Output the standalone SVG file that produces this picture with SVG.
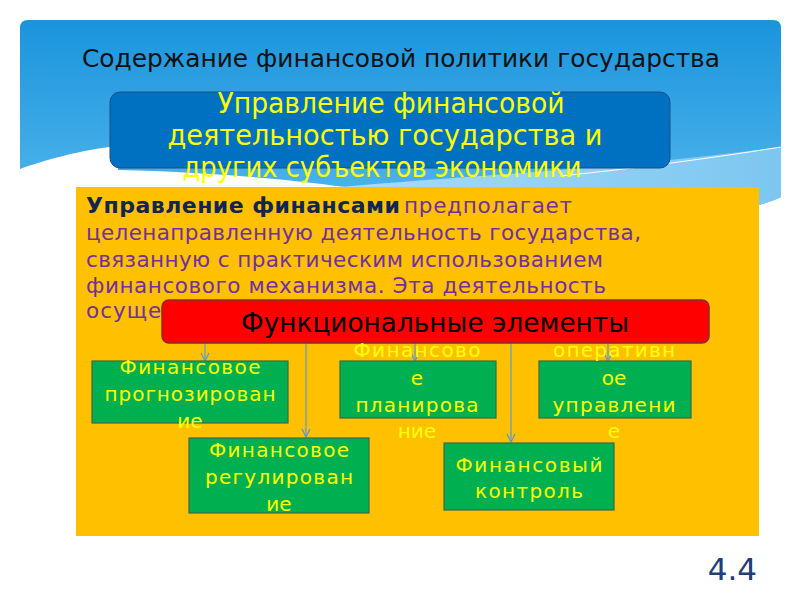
<svg xmlns="http://www.w3.org/2000/svg" width="800" height="600" viewBox="0 0 800 600">
  <defs>
    <linearGradient id="sky" x1="0" y1="0" x2="0" y2="1">
      <stop offset="0" stop-color="#1b94dc"/>
      <stop offset="1" stop-color="#4fb5ec"/>
    </linearGradient>
    <linearGradient id="band" x1="0" y1="0" x2="1" y2="0">
      <stop offset="0" stop-color="#a9dcf7"/>
      <stop offset="1" stop-color="#7cc6f1"/>
    </linearGradient>
    <marker id="arr" viewBox="0 0 10 10" refX="9" refY="5" markerWidth="10" markerHeight="10" markerUnits="userSpaceOnUse" orient="auto">
      <path d="M1,1 L9,5 L1,9" fill="none" stroke="#5b9bd5" stroke-width="1.3"/>
    </marker>
    <style>
      text { font-family: "DejaVu Sans", "Liberation Sans", sans-serif; }
      .title { font-size: 24px; fill: #111111; }
      .ytxt { font-size: 28px; fill: #ffff00; text-anchor: middle; }
      .body { font-size: 21.5px; fill: #7030a0; }
      .bold { font-size: 22px; font-weight: bold; fill: #102550; }
      .red { fill: #ff0000; stroke: #8c2a2a; stroke-width: 1.5; }
      .rtxt { font-size: 27px; fill: #000000; text-anchor: middle; }
      .green { fill: #00b050; stroke: #3a6a48; stroke-width: 1.2; }
      .gtxt { font-size: 20px; fill: #ffff00; text-anchor: middle; }
      .conn { stroke: #5b9bd5; stroke-width: 1.2; fill: none; marker-end: url(#arr); }
    </style>
  </defs>

  <rect x="0" y="0" width="800" height="600" fill="#ffffff"/>

  <!-- sky background -->
  <g id="background">
    <path d="M20,28 Q20,20 28,20 H773 Q781,20 781,28 V197 C775,200 767,203 759,205 L759,187 L20,187 Z" fill="url(#sky)"/>
    <path d="M340,187 C470,176 620,168 781,147 V197 C775,200 767,203 759,205 V187 Z" fill="url(#band)"/>
    <path d="M20,169 C45,160 80,150 118,146 L118,170 C200,172 280,178 345,187 L20,187 Z" fill="#ffffff"/>
    <path d="M560,176 C620,170 700,160 781,147" fill="none" stroke="#ffffff" stroke-width="1"/>
  </g>

  <text class="title" x="82" y="67" textLength="638" lengthAdjust="spacingAndGlyphs">Содержание финансовой политики государства</text>

  <g id="node-upravlenie">
    <rect x="110" y="92" width="560" height="76" rx="10" fill="#0070c0" stroke="#1d4f86" stroke-width="1"/>
    <text class="ytxt" x="391" y="113" textLength="347" lengthAdjust="spacingAndGlyphs">Управление финансовой</text>
    <text class="ytxt" x="385" y="145" textLength="435" lengthAdjust="spacingAndGlyphs">деятельностью государства  и</text>
    <text class="ytxt" x="382" y="177" textLength="399" lengthAdjust="spacingAndGlyphs">других субъектов экономики</text>
  </g>

  <g id="node-orange">
    <rect x="76" y="187" width="683" height="349" fill="#ffc000"/>
    <text class="bold" x="86" y="213" textLength="314" lengthAdjust="spacing">Управление  финансами</text>
    <text class="body" x="404" y="213" textLength="168" lengthAdjust="spacing">предполагает</text>
    <text class="body" x="86" y="240" textLength="555" lengthAdjust="spacing">целенаправленную деятельность государства,</text>
    <text class="body" x="86" y="267" textLength="517" lengthAdjust="spacing">связанную с практическим использованием</text>
    <text class="body" x="86" y="293" textLength="520" lengthAdjust="spacing">финансового механизма.  Эта деятельность</text>
    <text class="body" x="86" y="318" textLength="88" lengthAdjust="spacing">осущес</text>
  </g>

  <g id="connectors">
    <line class="conn" x1="205" y1="343" x2="205" y2="361"/>
    <line class="conn" x1="306" y1="343" x2="306" y2="437"/>
    <line class="conn" x1="415" y1="343" x2="415" y2="361"/>
    <line class="conn" x1="511" y1="343" x2="511" y2="442"/>
    <line class="conn" x1="608" y1="343" x2="608" y2="361"/>
  </g>

  <g id="node-functional">
    <rect class="red" x="162" y="300" width="547" height="43" rx="7"/>
    <text class="rtxt" x="435" y="332" textLength="388" lengthAdjust="spacingAndGlyphs">Функциональные элементы</text>
  </g>

  <g id="node-prognoz">
    <rect class="green" x="92" y="361" width="196" height="62"/>
    <text class="gtxt" x="190" y="374" textLength="141" lengthAdjust="spacing">Финансовое</text>
    <text class="gtxt" x="190" y="401" textLength="171" lengthAdjust="spacing">прогнозирован</text>
    <text class="gtxt" x="190" y="428">ие</text>
  </g>

  <g id="node-regul">
    <rect class="green" x="189" y="438" width="180" height="75"/>
    <text class="gtxt" x="279" y="457" textLength="140" lengthAdjust="spacing">Финансовое</text>
    <text class="gtxt" x="279" y="484" textLength="148" lengthAdjust="spacing">регулирован</text>
    <text class="gtxt" x="279" y="511">ие</text>
  </g>

  <g id="node-plan">
    <rect class="green" x="340" y="361" width="156" height="57"/>
    <text class="gtxt" x="417" y="357" textLength="127" lengthAdjust="spacing">Финансово</text>
    <text class="gtxt" x="417" y="385">е</text>
    <text class="gtxt" x="417" y="412" textLength="123" lengthAdjust="spacing">планирова</text>
    <text class="gtxt" x="417" y="438">ние</text>
  </g>

  <g id="node-oper">
    <rect class="green" x="539" y="361" width="152" height="57"/>
    <text class="gtxt" x="614" y="357" textLength="122" lengthAdjust="spacing">оперативн</text>
    <text class="gtxt" x="614" y="385">ое</text>
    <text class="gtxt" x="614" y="412" textLength="123" lengthAdjust="spacing">управлени</text>
    <text class="gtxt" x="614" y="438">е</text>
  </g>

  <g id="node-kontrol">
    <rect class="green" x="444" y="443" width="170" height="67"/>
    <text class="gtxt" x="529" y="472" textLength="147" lengthAdjust="spacing">Финансовый</text>
    <text class="gtxt" x="529" y="498" textLength="108" lengthAdjust="spacing">контроль</text>
  </g>

  <text x="757" y="580" font-size="31" fill="#1f3f7a" text-anchor="end" style="font-family:'DejaVu Sans','Liberation Sans',sans-serif">4.4</text>
</svg>
